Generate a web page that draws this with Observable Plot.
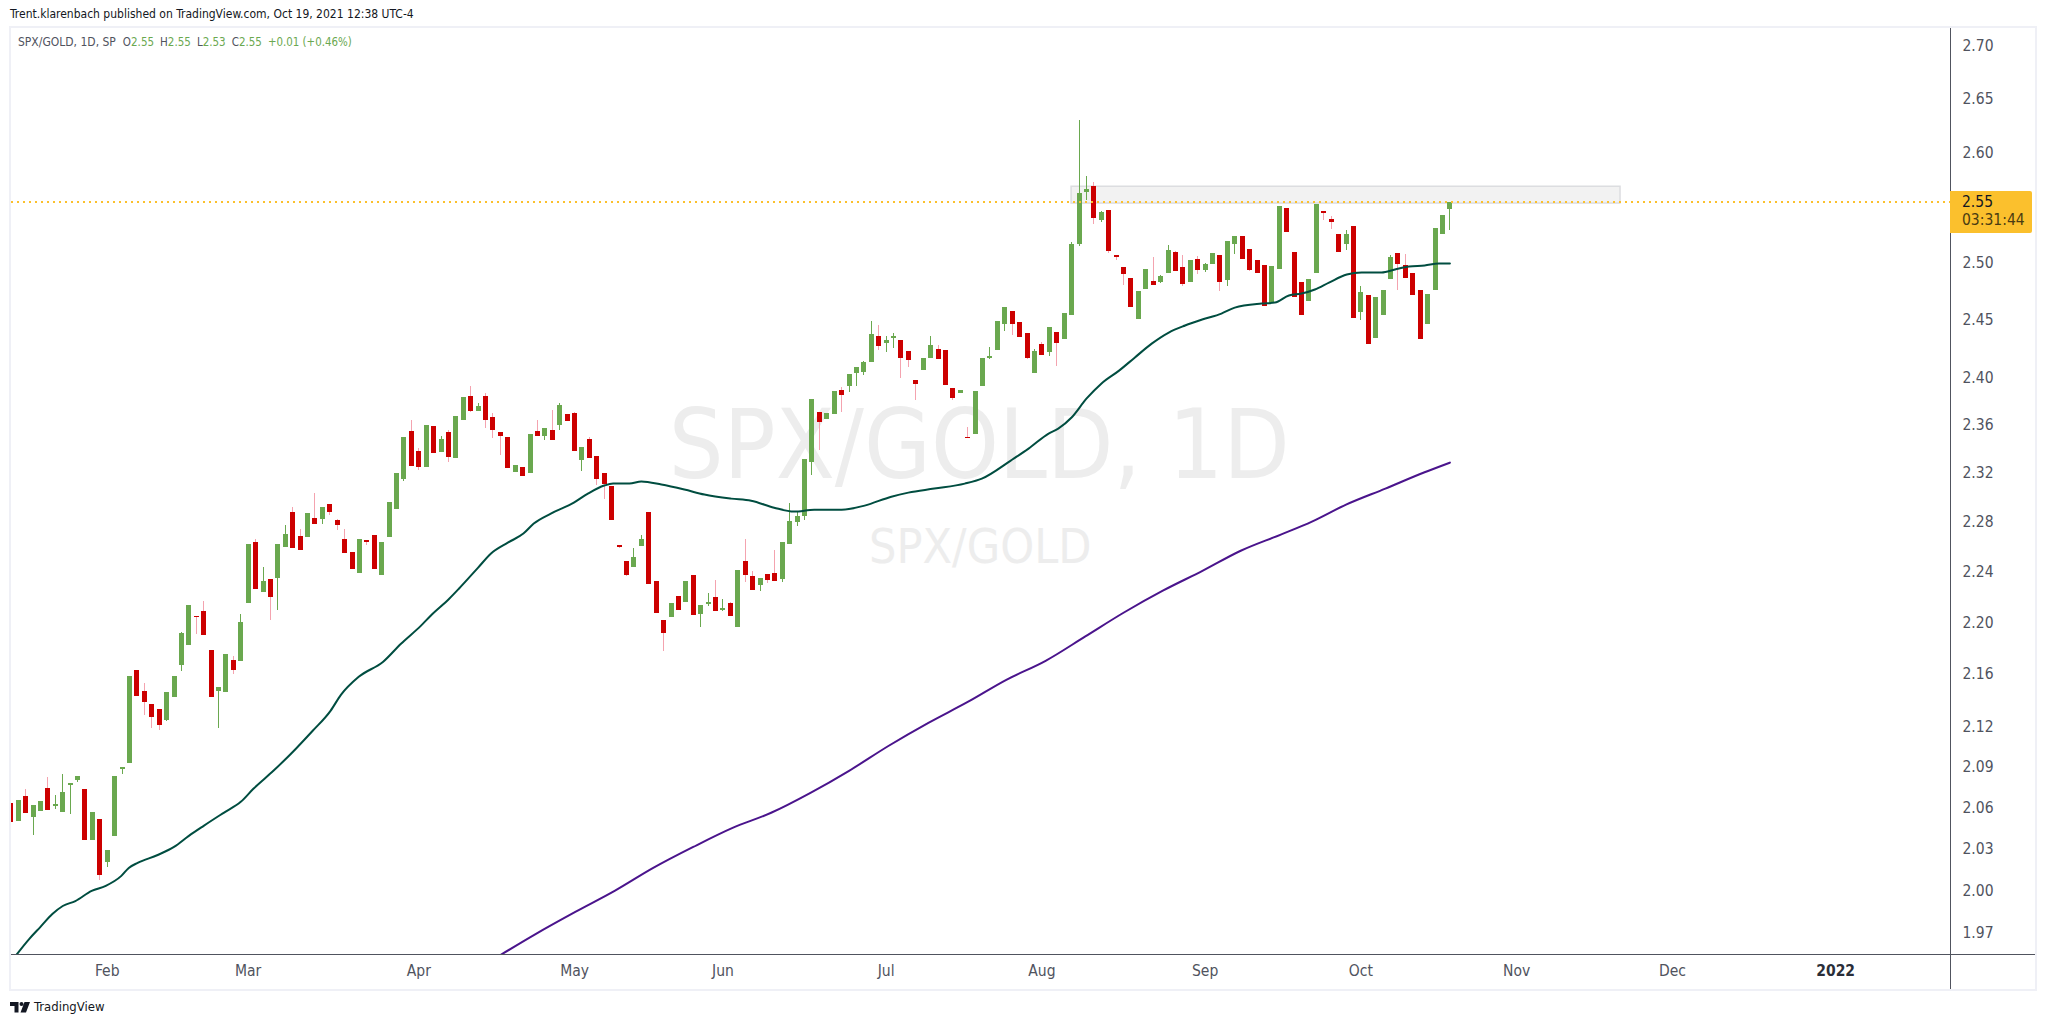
<!DOCTYPE html>
<html lang="en">
<head>
<meta charset="utf-8">
<title>SPX/GOLD, 1D</title>
<script src="https://cdn.jsdelivr.net/npm/d3@7"></script>
<script src="https://cdn.jsdelivr.net/npm/@observablehq/plot@0.6"></script>
<style>
  html, body { margin: 0; padding: 0; background: #fff; overflow: hidden; }
  body { width: 2046px; height: 1025px; position: relative;
         font-family: "DejaVu Sans Condensed", "DejaVu Sans", sans-serif; font-stretch: condensed; }
  .abs { position: absolute; white-space: nowrap; line-height: 1; }
  #frame { position: absolute; left: 9px; top: 26px; width: 2024px; height: 961px;
           border: 2px solid #eff0f6; }
  #frame svg { display: block; position: absolute; left: 0; top: 0; }
  #vline { position: absolute; left: 1950px; top: 28px; width: 1px; height: 961px; background: #50535e; }
  #hline { position: absolute; left: 11px; top: 954px; width: 2024px; height: 1px; background: #50535e; }
  #badge { position: absolute; left: 1950px; top: 191px; width: 82px; height: 42px;
           background: #fbc02d; border-radius: 0 2px 2px 0; }
  #logo { position: absolute; left: 10px; top: 1002px; width: 20px; height: 11px; background: #131722;
          clip-path: path('M0 0H8.5V10.5H4.5V4H0Z M9.5 2a2 2 0 1 0 4 0a2 2 0 1 0 -4 0Z M14.5 0H20L16 10.5H10.5Z'); }
  .legend span { margin-right: 6px; font-size: 11.5px; }
  .legend span:first-child { margin-right: 7px; font-size: 12px; }
  .legend span:last-child { font-size: 11.4px; }
  .legend b { font-weight: normal; color: #6aa84f; }
</style>
</head>
<body>
<div class="abs" style="left:10px;top:8px;font-size:12px;color:#131722">Trent.klarenbach published on TradingView.com, Oct 19, 2021 12:38 UTC-4</div>
<div id="frame"></div>
<div id="vline"></div>
<div id="hline"></div>
<div class="abs legend" style="left:18px;top:36px;font-size:12px;color:#50535e">
  <span>SPX/GOLD, 1D, SP</span><span>O<b>2.55</b></span><span>H<b>2.55</b></span><span>L<b>2.53</b></span><span>C<b>2.55</b></span><span><b>+0.01 (+0.46%)</b></span>
</div>
<div id="badge"></div>
<div class="abs" style="left:1962px;top:195px;font-size:15.5px;color:#131722;font-weight:500">2.55</div>
<div class="abs" style="left:1962px;top:213px;font-size:15.5px;color:#4a3c12">03:31:44</div>
<div id="logo"></div>
<div class="abs" style="left:34px;top:1000px;font-size:13px;color:#131722">TradingView</div>
<script>
const open = [
2.0628,2.0497,2.0680,2.0526,2.0570,2.0739,2.0606,2.0563,2.0761,2.0798,
2.0731,2.0359,2.0512,2.0200,2.0388,2.0879,2.0924,2.1627,2.1466,2.1367,
2.1329,2.1246,2.1420,2.1666,2.1820,2.2047,2.2086,2.1781,2.1466,2.1458,
2.1704,2.1697,2.2149,2.2635,2.2234,2.2339,2.2347,2.2594,2.2878,2.2683,
2.2675,2.2829,2.2821,2.2943,2.2813,2.2659,2.2554,2.2387,2.2651,2.2692,
2.2371,2.2675,2.2902,2.3148,2.3546,2.3379,2.3247,2.3588,2.3371,2.3538,
2.3321,2.3638,2.3840,2.3714,2.3840,2.3664,2.3538,2.3496,2.3206,2.3247,
2.3197,2.3546,2.3504,2.3555,2.3596,2.3689,2.3697,2.3305,2.3479,2.3338,
2.3197,2.3090,2.2610,2.2482,2.2435,2.2602,2.2878,2.2323,2.2016,2.2039,
2.2204,2.2156,2.2371,2.2063,2.2141,2.2196,2.2094,2.2149,2.1961,2.2482,
2.2363,2.2291,2.2379,2.2387,2.2339,2.2619,2.2797,2.2845,2.3288,2.3705,
2.3647,2.3689,2.3891,2.3926,2.4037,2.4045,2.4131,2.4354,2.4294,2.4337,
2.4320,2.4224,2.3977,2.4062,2.4165,2.4241,2.4233,2.3909,2.3866,2.3496,
2.3521,2.3926,2.4165,2.4233,2.4459,2.4572,2.4476,2.4381,2.4037,2.4285,
2.4216,2.4390,2.4329,2.4537,2.5165,2.5634,2.5689,2.5381,2.5471,2.5067,
2.4960,2.4863,2.4503,2.4766,2.4836,2.4827,2.4907,2.5093,2.4960,2.4827,
2.5031,2.4934,2.4987,2.5067,2.4845,2.5165,2.5237,2.5120,2.5022,2.4978,
2.4642,2.4943,2.5489,2.5093,2.4827,2.4659,2.4907,2.5462,2.5390,2.5255,
2.5165,2.5327,2.4564,2.4713,2.4337,2.4537,2.4854,2.5084,2.4978,2.4907,
2.4757,2.4459,2.4757,2.5255,2.5480];
const high = [
2.0628,2.0650,2.0731,2.0614,2.0643,2.0820,2.0687,2.0842,2.0776,2.0828,
2.0731,2.0563,2.0512,2.0286,2.0828,2.0894,2.1581,2.1627,2.1528,2.1367,
2.1329,2.1458,2.1581,2.1922,2.2133,2.2047,2.2164,2.1781,2.1497,2.1750,
2.1735,2.2063,2.2619,2.2659,2.2435,2.2339,2.2619,2.2773,2.2918,2.2740,
2.2870,2.3033,2.2918,2.2943,2.2821,2.2740,2.2554,2.2659,2.2651,2.2692,
2.2635,2.2959,2.3197,2.3496,2.3638,2.3404,2.3596,2.3588,2.3504,2.3555,
2.3672,2.3832,2.3926,2.3781,2.3866,2.3697,2.3538,2.3496,2.3263,2.3247,
2.3521,2.3638,2.3571,2.3722,2.3781,2.3689,2.3705,2.3412,2.3496,2.3338,
2.3197,2.3090,2.2610,2.2482,2.2586,2.2692,2.2878,2.2323,2.2016,2.2149,
2.2204,2.2323,2.2371,2.2133,2.2226,2.2331,2.2180,2.2156,2.2411,2.2659,
2.2403,2.2347,2.2379,2.2570,2.2635,2.2951,2.2878,2.3313,2.3815,2.3705,
2.3697,2.3883,2.3917,2.4028,2.4088,2.4139,2.4485,2.4451,2.4354,2.4381,
2.4320,2.4224,2.3977,2.4165,2.4354,2.4276,2.4233,2.3909,2.3891,2.3580,
2.3883,2.4165,2.4259,2.4485,2.4607,2.4572,2.4476,2.4381,2.4241,2.4302,
2.4433,2.4390,2.4555,2.5183,2.6300,2.5781,2.5726,2.5462,2.5471,2.5067,
2.4960,2.4863,2.4748,2.4943,2.5049,2.4890,2.5156,2.5102,2.5067,2.5022,
2.5058,2.4996,2.5084,2.5067,2.5192,2.5237,2.5237,2.5120,2.5022,2.4978,
2.4969,2.5507,2.5489,2.5093,2.4827,2.4854,2.5525,2.5462,2.5417,2.5255,
2.5291,2.5327,2.4792,2.4713,2.4695,2.4757,2.5067,2.5084,2.5076,2.4907,
2.4757,2.4721,2.5309,2.5426,2.5543];
const low = [
2.0439,2.0497,2.0555,2.0395,2.0570,2.0577,2.0584,2.0563,2.0548,2.0783,
2.0359,2.0359,2.0071,2.0164,2.0388,2.0842,2.0924,2.1428,2.1284,2.1186,
2.1171,2.1239,2.1420,2.1620,2.1820,2.1906,2.1898,2.1420,2.1186,2.1458,
2.1597,2.1697,2.2149,2.2258,2.2234,2.2016,2.2094,2.2594,2.2586,2.2570,
2.2675,2.2781,2.2781,2.2853,2.2732,2.2546,2.2419,2.2387,2.2610,2.2419,
2.2371,2.2675,2.2902,2.3132,2.3255,2.3222,2.3247,2.3362,2.3371,2.3288,
2.3321,2.3638,2.3705,2.3714,2.3571,2.3488,2.3346,2.3239,2.3206,2.3173,
2.3197,2.3504,2.3471,2.3471,2.3555,2.3630,2.3379,2.3214,2.3321,2.3099,
2.2983,2.2813,2.2586,2.2363,2.2435,2.2602,2.2299,2.2070,2.1773,2.2039,
2.2094,2.2156,2.2055,2.1961,2.2125,2.2086,2.2086,2.2047,2.1961,2.2315,
2.2252,2.2244,2.2307,2.2323,2.2315,2.2619,2.2764,2.2813,2.3181,2.3387,
2.3647,2.3689,2.3705,2.3874,2.3926,2.4020,2.4131,2.4233,2.4216,2.4250,
2.3994,2.4088,2.3806,2.4062,2.4165,2.4156,2.3934,2.3806,2.3866,2.3488,
2.3521,2.3926,2.4156,2.4233,2.4398,2.4363,2.4346,2.4156,2.4037,2.4190,
2.4182,2.4096,2.4329,2.4537,2.5147,2.5561,2.5345,2.5363,2.5084,2.5022,
2.4801,2.4607,2.4503,2.4766,2.4801,2.4818,2.4907,2.4925,2.4792,2.4827,
2.4898,2.4916,2.4987,2.4748,2.4792,2.5076,2.5031,2.4925,2.4907,2.4616,
2.4642,2.4943,2.5273,2.4695,2.4537,2.4659,2.4907,2.5381,2.5300,2.5093,
2.5111,2.4511,2.4494,2.4285,2.4337,2.4537,2.4854,2.4757,2.4863,2.4713,
2.4329,2.4459,2.4757,2.5255,2.5291];
const close = [
2.0490,2.0650,2.0555,2.0614,2.0643,2.0577,2.0621,2.0709,2.0776,2.0828,
2.0359,2.0563,2.0107,2.0286,2.0828,2.0894,2.1581,2.1428,2.1382,2.1269,
2.1209,2.1458,2.1581,2.1914,2.2133,2.2039,2.1898,2.1420,2.1497,2.1750,
2.1627,2.2000,2.2619,2.2258,2.2323,2.2196,2.2619,2.2700,2.2586,2.2570,
2.2870,2.2781,2.2918,2.2878,2.2773,2.2546,2.2419,2.2659,2.2635,2.2419,
2.2635,2.2959,2.3197,2.3496,2.3255,2.3247,2.3596,2.3362,2.3479,2.3329,
2.3672,2.3832,2.3714,2.3756,2.3638,2.3555,2.3504,2.3239,2.3263,2.3173,
2.3521,2.3504,2.3571,2.3471,2.3764,2.3630,2.3379,2.3412,2.3321,2.3148,
2.3107,2.2813,2.2594,2.2371,2.2514,2.2659,2.2299,2.2070,2.1914,2.2149,
2.2094,2.2323,2.2055,2.2133,2.2156,2.2086,2.2109,2.2047,2.2411,2.2371,
2.2252,2.2347,2.2331,2.2323,2.2635,2.2805,2.2845,2.3313,2.3815,2.3622,
2.3697,2.3883,2.3849,2.4028,2.4088,2.4131,2.4372,2.4267,2.4320,2.4354,
2.4165,2.4148,2.3943,2.4165,2.4276,2.4156,2.3934,2.3823,2.3891,2.3488,
2.3883,2.4165,2.4182,2.4485,2.4607,2.4459,2.4346,2.4165,2.4224,2.4190,
2.4433,2.4294,2.4555,2.5165,2.5624,2.5661,2.5399,2.5453,2.5102,2.5049,
2.4898,2.4607,2.4748,2.4943,2.4801,2.4881,2.5111,2.4925,2.4810,2.5022,
2.4934,2.4987,2.5084,2.4827,2.5192,2.5237,2.5031,2.4934,2.4907,2.4616,
2.4969,2.5507,2.5273,2.4695,2.4537,2.4854,2.5525,2.5444,2.5363,2.5093,
2.5255,2.4511,2.4739,2.4285,2.4695,2.4757,2.5049,2.4987,2.4863,2.4713,
2.4329,2.4721,2.5309,2.5426,2.5543];

// 50-day average: bar position, value
const ma50Bar = [0.4,2.5,4,5.6,7,8.7,10.9,12.8,14.9,15.9,17.1,19.8,22,24,26,28.7,31,32.7,35.4,38.4,40.7,43.1,44.5,46.9,50.2,52.6,55.3,56.6,59.1,60.4,63,64.7,67,69.1,70.5,72.8,75.9,77.8,80,81.2,83.4,85,87.7,90.8,93.5,97.1,99.8,102.9,105.6,108.3,112,115.1,118.7,121,124.5,128.6,130.9,134.8,137.2,139.9,141.2,143,145,147,149.4,151.5,153.8,156.1,158.3,160.6,163.2,165,168.6,170.4,172.3,174,175.8,177.7,180.1,182.1,184.8,186.6,188.5,190.6,192.5,194];
const ma50Val = [1.9527,1.9662,1.9746,1.9836,1.9893,1.9928,2.0000,2.0036,2.0107,2.0164,2.0200,2.0257,2.0315,2.0395,2.0468,2.0563,2.0643,2.0739,2.0872,2.1035,2.1171,2.1322,2.1443,2.1581,2.1697,2.1836,2.1977,2.2055,2.2188,2.2267,2.2435,2.2546,2.2635,2.2708,2.2789,2.2870,2.2959,2.3033,2.3099,2.3115,2.3115,2.3132,2.3107,2.3066,2.3025,2.2992,2.2975,2.2918,2.2886,2.2902,2.2902,2.2935,2.3008,2.3041,2.3074,2.3115,2.3156,2.3305,2.3404,2.3530,2.3571,2.3664,2.3823,2.3951,2.4062,2.4173,2.4294,2.4390,2.4451,2.4503,2.4555,2.4607,2.4642,2.4651,2.4713,2.4730,2.4766,2.4827,2.4898,2.4916,2.4916,2.4943,2.4969,2.4978,2.4996,2.4996];
// 200-day average: bar position, value
const ma200Bar = [66,70.8,76.1,81.4,86.6,92,97.3,102.5,107.8,113,118.3,123.7,129,134.2,139.5,144.8,150,155.3,160.7,165.8,171.2,175.4,180,185.3,190.5,194];
const ma200Val = [1.9549,1.9697,1.9851,2.0000,2.0164,2.0315,2.0453,2.0563,2.0709,2.0872,2.1057,2.1231,2.1389,2.1558,2.1704,2.1891,2.2078,2.2252,2.2411,2.2570,2.2700,2.2805,2.2943,2.3074,2.3206,2.3288];

const priceTicks = [1.97,2.00,2.03,2.06,2.09,2.12,2.16,2.20,2.24,2.28,2.32,2.36,2.40,2.45,2.50,2.60,2.65,2.70];
const monthBars = [13,32,55,76,96,118,139,161,182,203,224];
const monthNames = ["Feb","Mar","Apr","May","Jun","Jul","Aug","Sep","Oct","Nov","Dec"];
const yearBars = [246];
const yearNames = ["2022"];
const lastPrice = [2.5552];
const zone = [{x1: 143, x2: 217, y1: 2.5534, y2: 2.5687}];
const watermarkBig = ["SPX/GOLD, 1D"];
const watermarkSmall = ["SPX/GOLD"];

const bars = open.map((o, i) => ({i, o, h: high[i], l: low[i], c: close[i], up: close[i] >= o}));
const ma50 = ma50Bar.map((x, k) => ({x, y: ma50Val[k]}));
const ma200 = ma200Bar.map((x, k) => ({x, y: ma200Val[k]}));

const GREEN = "#6aa84f", RED = "#cc0000", PINK = "#f4a3af";
const FONT = "'DejaVu Sans Condensed','DejaVu Sans',sans-serif";
const axisFill = "#50535e";

const chart = Plot.plot({
  width: 2024, height: 961,
  marginLeft: 0, marginRight: 84.5, marginTop: 0, marginBottom: 35,
  style: {background: "transparent", fontFamily: FONT, overflow: "visible"},
  x: {type: "linear", domain: [0.094, 261.55]},
  y: {type: "log", domain: [1.9553, 2.7173]},
  marks: [
    Plot.text(watermarkBig, {text: d => d, frameAnchor: "middle", dx: -2, dy: -44, fontSize: 96, fill: "#ededed", fontFamily: FONT}),
    Plot.text(watermarkSmall, {text: d => d, frameAnchor: "middle", dx: -1, dy: 56, fontSize: 48, fill: "#ededed", fontFamily: FONT}),
    Plot.rect(zone, {x1: "x1", x2: "x2", y1: "y1", y2: "y2", fill: "#f2f2f2", stroke: "#dcdde0", strokeWidth: 1.5}),
    Plot.ruleX(bars, {x: "i", y1: "l", y2: "h", stroke: d => d.up ? GREEN : PINK, strokeWidth: 1, shapeRendering: "crispEdges", clip: true}),
    Plot.ruleX(bars, {x: "i", y1: "o", y2: "c", stroke: d => d.up ? GREEN : RED, strokeWidth: 5, shapeRendering: "crispEdges", clip: true}),
    Plot.line(ma50, {x: "x", y: "y", stroke: "#004d40", strokeWidth: 2, curve: "monotone-x", clip: true}),
    Plot.line(ma200, {x: "x", y: "y", stroke: "#4a148c", strokeWidth: 2, curve: "monotone-x", clip: true}),
    Plot.ruleY(lastPrice, {y: d => d, stroke: "#fbc02d", strokeWidth: 2, strokeDasharray: "2,4", shapeRendering: "crispEdges"}),
    Plot.axisY({anchor: "right", ticks: priceTicks, tickFormat: d3.format(".2f"), tickSize: 0, tickPadding: 11.5, fontSize: 15.5, fill: axisFill, label: null, fontFamily: FONT}),
    Plot.axisX({anchor: "bottom", ticks: monthBars, tickFormat: d => monthNames[monthBars.indexOf(d)], tickSize: 0, tickPadding: 10, fontSize: 15.5, fill: axisFill, label: null, fontFamily: FONT}),
    Plot.axisX({anchor: "bottom", ticks: yearBars, tickFormat: d => yearNames[yearBars.indexOf(d)], tickSize: 0, tickPadding: 10, fontSize: 15.5, fontWeight: 600, fill: "#2a2e39", label: null, fontFamily: FONT})
  ]
});
document.getElementById("frame").appendChild(chart);
</script>
</body>
</html>
